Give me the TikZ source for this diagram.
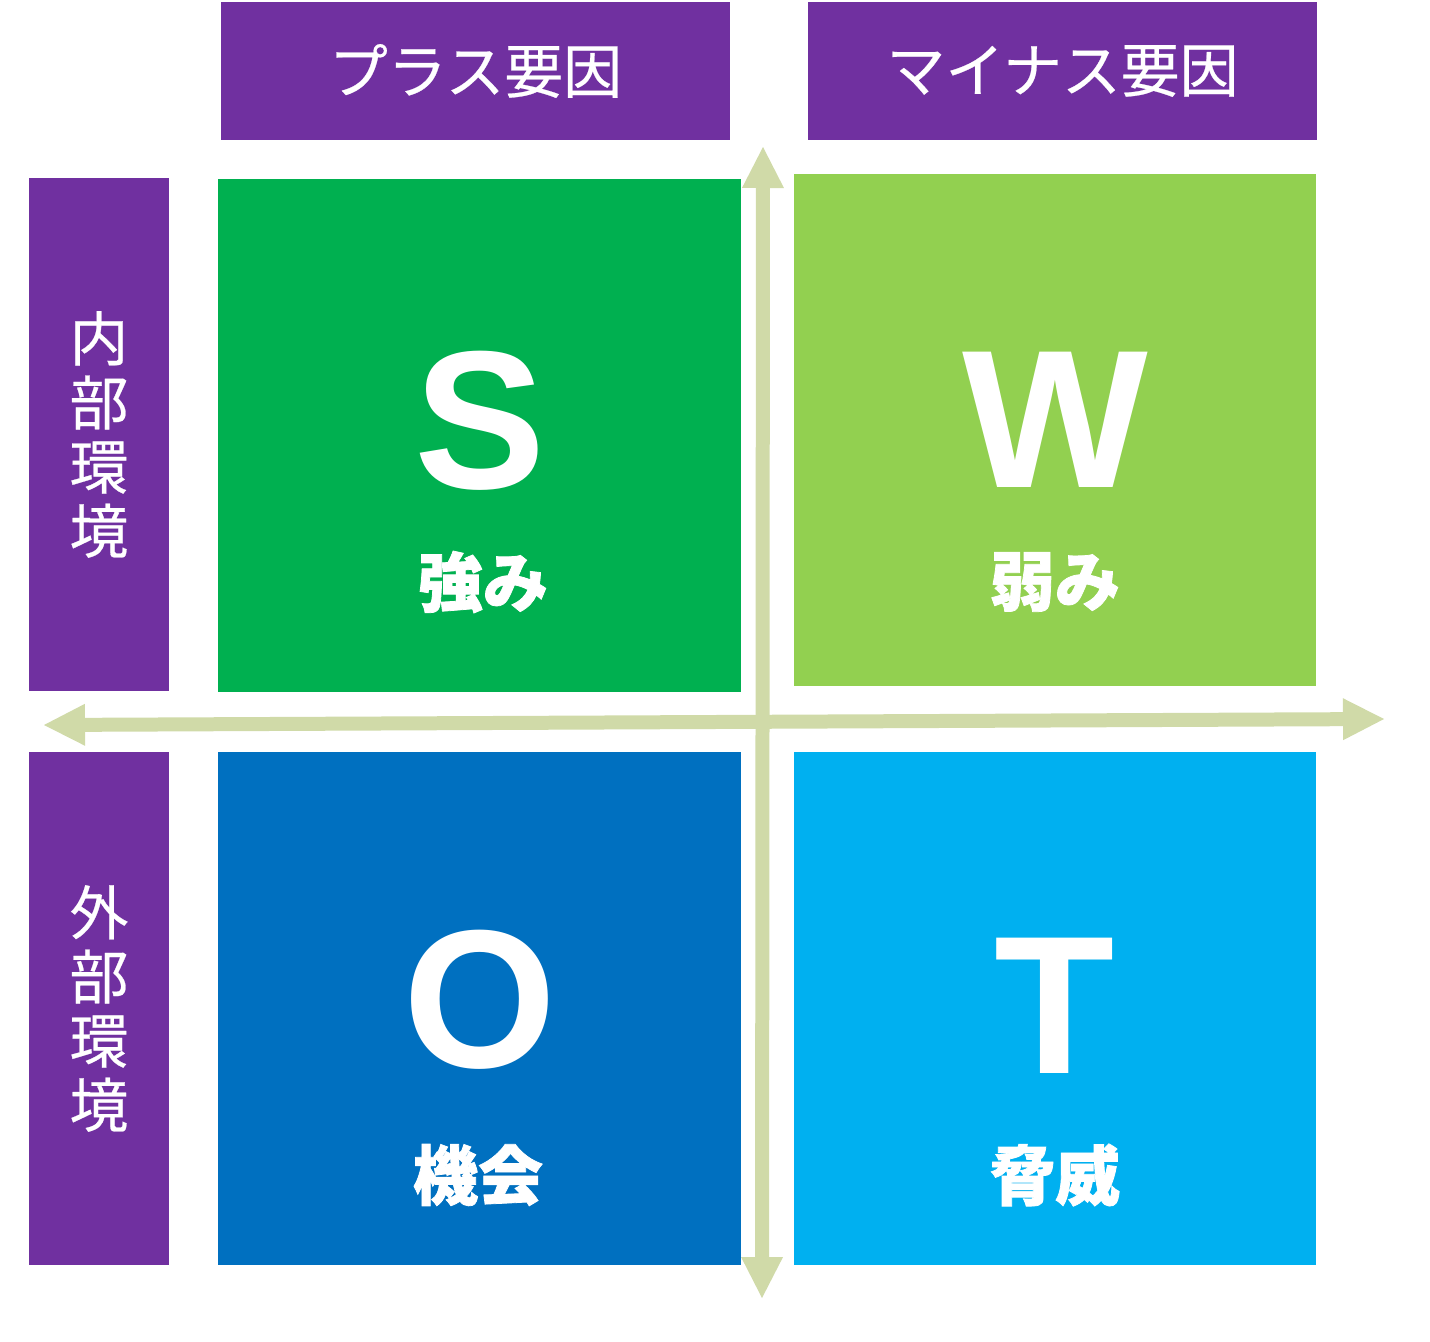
\documentclass[tikz,border=0pt]{standalone}
\usepackage{fontspec}
\setmainfont{Liberation Sans}
\newfontfamily\jpfont[FakeBold=0.4]{Noto Sans CJK JP}
\newfontfamily\jpheavy[BoldFeatures={FakeBold=1.2}]{Noto Sans CJK JP}
\usetikzlibrary{positioning, arrows.meta}

\definecolor{swotpurple}{RGB}{112,48,160}
\definecolor{swotgreen}{RGB}{0,176,80}
\definecolor{swotlime}{RGB}{146,208,80}
\definecolor{swotblue}{RGB}{0,112,192}
\definecolor{swotcyan}{RGB}{0,176,240}
\definecolor{swotaxis}{RGB}{208,218,168}

\tikzset{
  headbox/.style={rectangle, fill=swotpurple, text=white, minimum width=10.18cm, minimum height=2.76cm, font=\jpfont\fontsize{33.5}{36}\selectfont},
  sidebox/.style={rectangle, fill=swotpurple, text=white, minimum width=2.8cm, minimum height=10.26cm, align=center, font=\jpfont\fontsize{33.5}{36.5}\selectfont},
  quadbox/.style={rectangle, minimum width=10.46cm, minimum height=10.26cm},
  bigletter/.style={text=white, inner sep=0pt, font=\bfseries\fontsize{112}{120}\selectfont},
  quadlabel/.style={text=white, inner sep=0pt, font=\jpheavy\bfseries\fontsize{37}{40}\selectfont},
  axisarrow/.style={draw=swotaxis, line width=0.28cm, {Triangle[length=0.82cm, width=0.84cm, line width=0pt]}-{Triangle[length=0.82cm, width=0.84cm, line width=0pt]}}
}

\begin{document}
\begin{tikzpicture}[x=0.02cm, y=-0.02cm]
  \useasboundingbox (0,0) rectangle (1430,1342);

  % Headers
  \node[headbox] (plus) at (475.5,71) {プラス要因};
  \node[headbox] (minus) at (1062.5,71) {マイナス要因};
  \node[sidebox] (inner) at (99,434.5) {内\\部\\環\\境};
  \node[sidebox] (outer) at (99,1008.5) {外\\部\\環\\境};

  % Boxes
  \foreach \n/\x/\y/\c in {s/479.5/435.5/swotgreen, w/1055/430/swotlime, o/479.5/1008.5/swotblue, t/1055/1008.5/swotcyan}
  \node[quadbox, fill=\c] (box\n) at (\x,\y) {};
  \foreach \n/\x/\y/\l in {s/480/421/S, w/1055/420/W, o/480/1000/O, t/1055/1006/T}
  \node[bigletter] (letter\n) at (\x,\y) {\l};
  \foreach \n/\x/\y/\t in {s/483/582/強み, w/1055/582/弱み, o/478/1175/機会, t/1055/1175/脅威}
  \node[quadlabel] (label\n) at (\x,\y) {\t};

  % Arrows
  \coordinate (ytop) at (763,147);
  \coordinate (ybottom) at (762,1298);
  \coordinate (xleft) at (44,725);
  \coordinate (xright) at (1384,719);
  \draw[axisarrow] (ybottom) -- (ytop);
  \draw[axisarrow] (xleft) -- (xright);
\end{tikzpicture}
\end{document}
